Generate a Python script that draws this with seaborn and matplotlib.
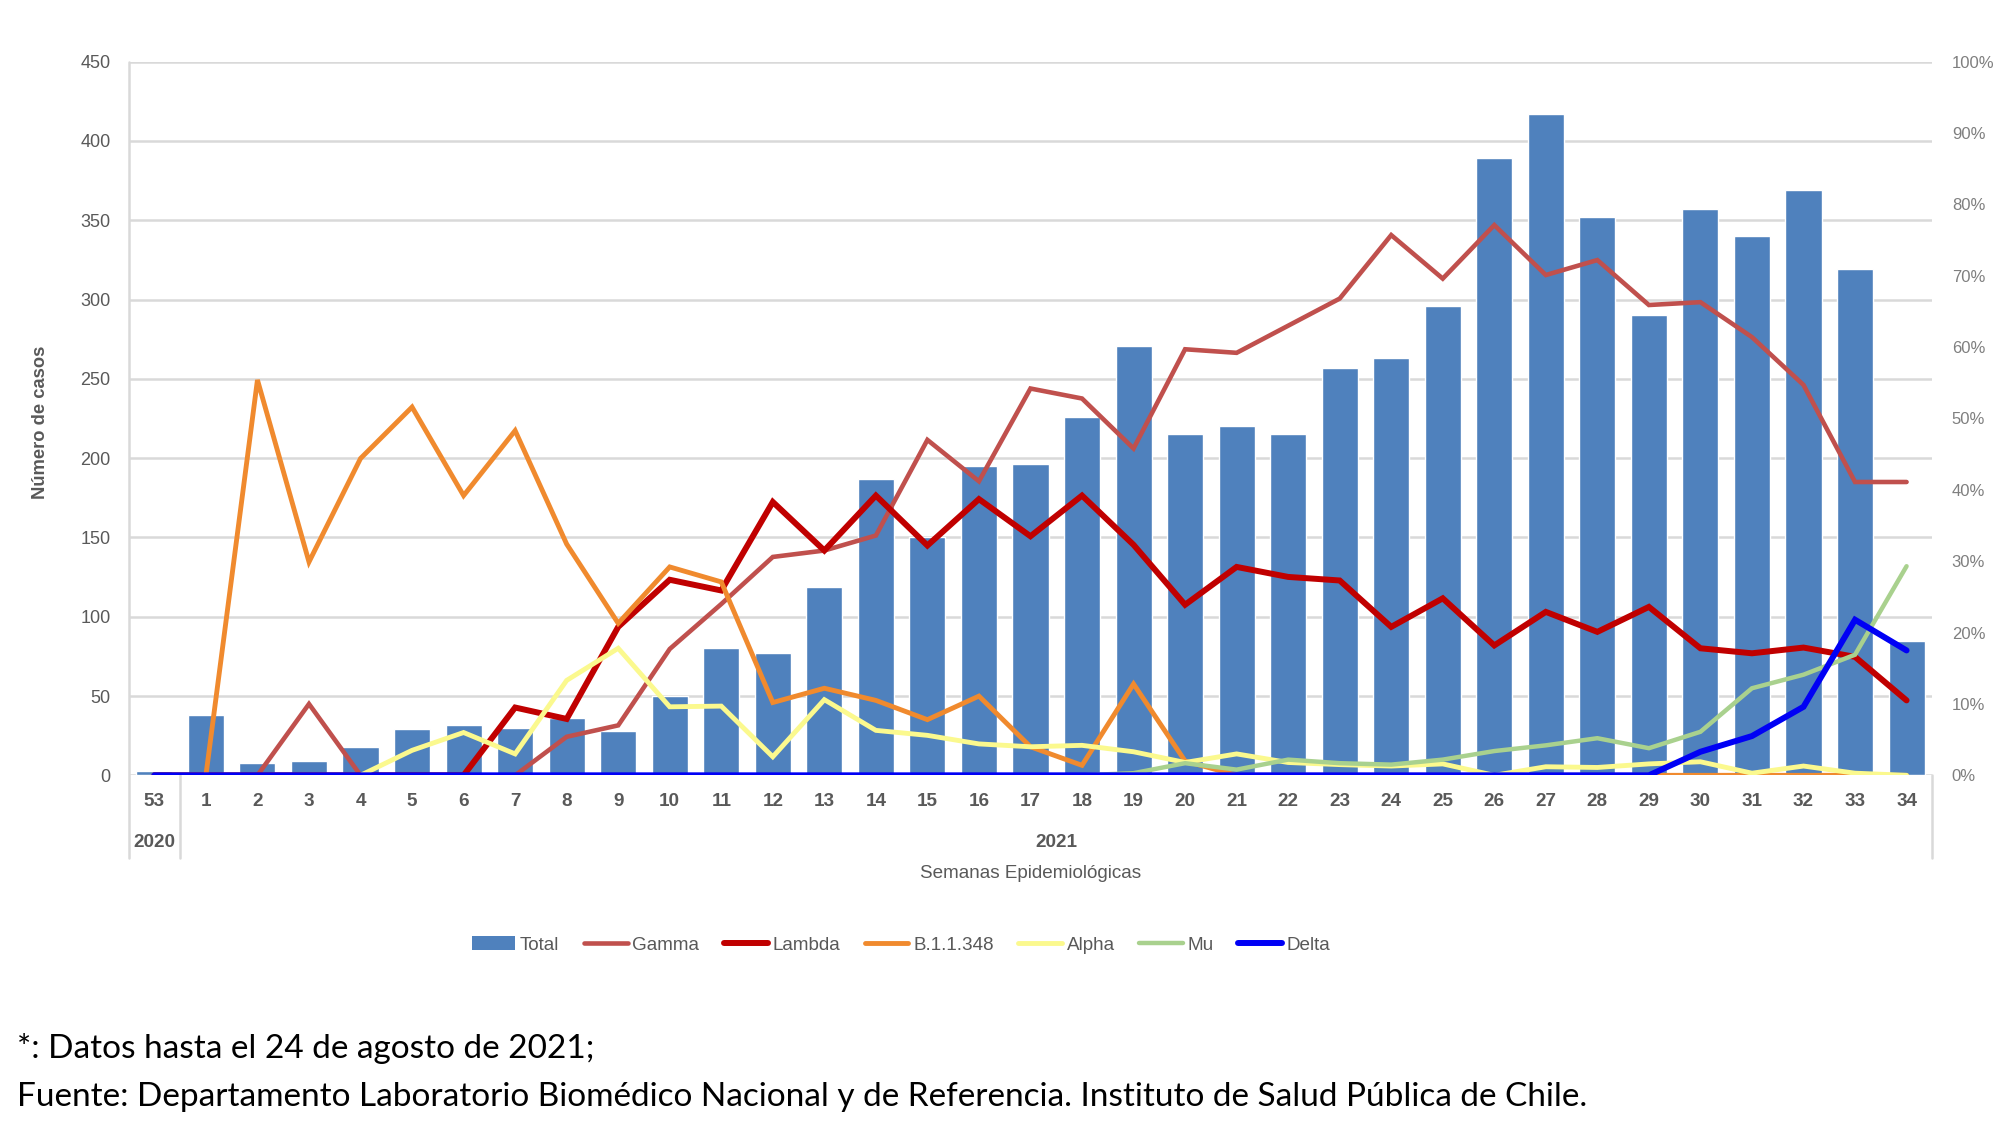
import numpy as np
import pandas as pd
import matplotlib
matplotlib.use("Agg")
import matplotlib.pyplot as plt
import matplotlib.transforms as mtransforms
from matplotlib.ticker import PercentFormatter, MultipleLocator
from matplotlib.patches import Patch
from matplotlib.lines import Line2D
from matplotlib import font_manager
import seaborn as sns

# ---------------- data ----------------
weeks = ['53'] + [str(i) for i in range(1, 35)]
year_labels = ['2020', '2021']

total = [3, 38, 8, 9, 18, 29, 32, 30, 36, 28,
         50, 80, 77, 119, 187, 150, 195, 196, 226, 271,
         215, 220, 215, 257, 263, 296, 389, 417, 352, 290,
         357, 340, 369, 319, 85]

# percentages (right axis)
gamma = [0, 0, 0, 10.0, 0, 0, 0, 0, 5.4, 7.0,
         17.7, 24.0, 30.6, 31.5, 33.6, 47.0, 41.2, 54.2, 52.8, 45.8,
         59.7, 59.2, 63.0, 66.8, 75.7, 69.6, 77.1, 70.1, 72.2, 65.9,
         66.3, 61.4, 54.7, 41.1, 41.1]
lambda_ = [0, 0, 0, 0, 0, 0, 0, 9.5, 7.9, 20.8,
           27.4, 25.9, 38.3, 31.5, 39.2, 32.2, 38.7, 33.5, 39.2, 32.3,
           23.9, 29.2, 27.8, 27.3, 20.8, 24.8, 18.2, 22.9, 20.1, 23.6,
           17.8, 17.1, 17.9, 16.6, 10.5]
b11348 = [0, 0, 55.4, 29.9, 44.4, 51.6, 39.2, 48.3, 32.4, 21.3,
          29.2, 27.1, 10.2, 12.2, 10.5, 7.8, 11.1, 4.0, 1.4, 12.8,
          2.0, 0, 0, 0, 0, 0, 0, 0, 0, 0,
          0, 0, 0, 0, 0]
alpha = [0, 0, 0, 0, 0, 3.5, 6.0, 3.0, 13.3, 17.8,
         9.6, 9.7, 2.6, 10.6, 6.3, 5.6, 4.4, 4.0, 4.2, 3.3,
         1.8, 3.0, 1.8, 1.5, 1.3, 1.6, 0, 1.2, 1.1, 1.6,
         1.9, 0.3, 1.3, 0.3, 0]
mu = [0, 0, 0, 0, 0, 0, 0, 0, 0, 0,
      0, 0, 0, 0, 0, 0, 0, 0, 0, 0.3,
      1.7, 0.8, 2.2, 1.7, 1.5, 2.2, 3.4, 4.2, 5.2, 3.8,
      6.1, 12.2, 14.1, 16.9, 29.3]
delta = [0, 0, 0, 0, 0, 0, 0, 0, 0, 0,
         0, 0, 0, 0, 0, 0, 0, 0, 0, 0,
         0, 0, 0, 0, 0, 0, 0, 0, 0, 0,
         3.3, 5.5, 9.6, 21.8, 17.5]

series_names = ['Gamma', 'Lambda', 'B.1.1.348', 'Alpha', 'Mu', 'Delta']
series_values = [gamma, lambda_, b11348, alpha, mu, delta]
series_colors = ['#C0504D', '#C00000', '#F08A2E', '#FBF98E', '#A9D18E', '#0000F5']
series_widths = [3.3, 4.3, 3.5, 3.5, 3.2, 4.3]

footnote1 = "*: Datos hasta el 24 de agosto de 2021;"
footnote2 = "Fuente: Departamento Laboratorio Biomédico Nacional y de Referencia. Instituto de Salud Pública de Chile."

# ---------------- style ----------------
sns.set_style("white")
names = {f.name for f in font_manager.fontManager.ttflist}
narrow = 'Liberation Sans Narrow' if 'Liberation Sans Narrow' in names else 'Liberation Sans'
narrow_scale = 1.0 if narrow == 'Liberation Sans Narrow' else 0.88
plt.rcParams['font.family'] = ['Liberation Sans', 'DejaVu Sans']

fig = plt.figure(figsize=(20.16, 11.23), dpi=100)
ax = fig.add_axes([0.0638, 0.3096, 0.8947, 0.6355])

df_bar = pd.DataFrame({'week': weeks, 'total': total})
sns.barplot(data=df_bar, x='week', y='total', order=weeks, color='#4F81BD',
            saturation=1, width=0.7, ax=ax, zorder=2)

ax.set_ylim(0, 450)
ax.yaxis.set_major_locator(MultipleLocator(50))
ax.grid(axis='y', color='#D9D9D9', linewidth=1.8, zorder=0)
ax.set_axisbelow(True)
for s in ax.spines.values():
    s.set_visible(False)
ax.tick_params(axis='y', length=0, pad=13, labelsize=13, labelcolor='#595959')
ax.tick_params(axis='x', length=0, pad=13)
for lbl in ax.get_xticklabels():
    lbl.set_fontfamily(narrow)
    lbl.set_fontsize(15.5 * narrow_scale)
    lbl.set_fontweight('bold')
    lbl.set_color('#595959')
ax.set_xlabel('')
ax.set_ylabel('')

ax2 = ax.twinx()
x_pos = np.arange(len(weeks))
for name, vals, col, lw in zip(series_names, series_values, series_colors, series_widths):
    sns.lineplot(x=x_pos, y=vals, color=col, linewidth=lw, ax=ax2, legend=False,
                 solid_joinstyle='miter')
ax2.set_ylim(0, 100)
ax2.yaxis.set_major_locator(MultipleLocator(10))
ax2.yaxis.set_major_formatter(PercentFormatter(100, decimals=0))
ax2.grid(False)
for s in ax2.spines.values():
    s.set_visible(False)
ax2.tick_params(axis='y', length=0, pad=14, labelsize=12, labelcolor='#7F7F7F')
for lbl in ax2.get_yticklabels():
    lbl.set_fontfamily(narrow)
ax2.set_ylabel('')
ax.set_xlim(-0.5, len(weeks) - 0.5)

# category group separators and year labels
trans = mtransforms.blended_transform_factory(ax.transData, ax.transAxes)
sep_color = '#D9D9D9'
ax.plot([-0.5, -0.5], [1.0, -0.116], transform=trans, color=sep_color, lw=1.8, clip_on=False)
ax.plot([0.5, 0.5], [0.0, -0.116], transform=trans, color=sep_color, lw=1.8, clip_on=False)
ax.plot([len(weeks) - 0.5, len(weeks) - 0.5], [0.0, -0.116], transform=trans,
        color=sep_color, lw=1.8, clip_on=False)
ax.text(0, -0.0935, year_labels[0], transform=trans, ha='center', va='center',
        fontsize=15.5 * narrow_scale, family=narrow, color='#595959', fontweight='bold')
ax.text((1 + len(weeks) - 1) / 2, -0.0935, year_labels[1], transform=trans, ha='center',
        va='center', fontsize=15.5 * narrow_scale, family=narrow, color='#595959',
        fontweight='bold')

ax.text(0.5, -0.138, 'Semanas Epidemiológicas', transform=ax.transAxes, ha='center',
        va='center', fontsize=15.5 * narrow_scale, family=narrow, color='#595959')
ax.text(-0.0486, 0.495, 'Número de casos', transform=ax.transAxes, ha='center',
        va='center', rotation=90, fontsize=15 * narrow_scale, family=narrow,
        color='#595959', fontweight='bold')

# legend
handles = [Patch(facecolor='#4F81BD', edgecolor='none')]
labels = ['Total']
for name, col, lw in zip(series_names, series_colors, series_widths):
    handles.append(Line2D([0], [0], color=col, lw=lw))
    labels.append(name)
leg = fig.legend(handles, labels, loc='center', bbox_to_anchor=(0.447, 0.1585), ncol=7,
                 frameon=False, handlelength=2.3, handletextpad=0.25, columnspacing=1.3,
                 prop={'family': narrow, 'size': 15.5 * narrow_scale})
for t in leg.get_texts():
    t.set_color('#595959')

# footnotes
foot_font = ['Lato', 'DejaVu Sans']
t1 = fig.text(17 / 2016, 1 - 1049 / 1123, footnote1, ha='left', va='center',
              fontsize=22, family=foot_font, color='#000000')
t2 = fig.text(17 / 2016, 1 - 1097 / 1123, footnote2, ha='left', va='center',
              fontsize=22, family=foot_font, color='#000000')
fig.canvas.draw()
w = t2.get_window_extent().width
target = 1568.0
fs = 22 * target / w
t1.set_fontsize(fs)
t2.set_fontsize(fs)

fig.savefig('out.png', dpi=100, facecolor='white')
